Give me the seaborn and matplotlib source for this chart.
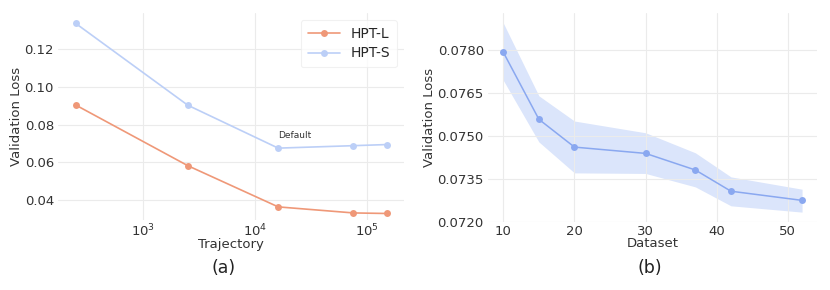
import numpy as np
import pandas as pd
import matplotlib
matplotlib.use("Agg")
import matplotlib.pyplot as plt
import seaborn as sns

# (a) 轨迹数量 vs 验证损失
trajectory = [250, 2500, 16000, 75000, 150000]
hpt_l_loss = [0.0903, 0.0582, 0.0364, 0.0332, 0.0329]
hpt_s_loss = [0.1335, 0.0902, 0.0675, 0.0688, 0.0694]

# (b) 数据集数量 vs 验证损失（带区间）
dataset = [10, 15, 20, 30, 37, 42, 52]
dataset_loss = [0.07793, 0.07559, 0.07462, 0.07440, 0.07382, 0.07308, 0.07276]
dataset_upper = [0.07895, 0.07641, 0.07553, 0.07512, 0.07442, 0.07358, 0.07315]
dataset_lower = [0.07695, 0.07480, 0.07372, 0.07370, 0.07323, 0.07257, 0.07235]

sns.set_theme(style="whitegrid")
plt.rcParams['font.family'] = ['DejaVu Sans']
plt.rcParams['grid.color'] = '#ebebeb'
plt.rcParams['grid.linewidth'] = 0.8

c_l = '#ef9878'
c_s = '#bccff7'
c_b = '#8aa8f0'
c_fill = '#dbe5fb'
txt = '#333333'

fig = plt.figure(figsize=(8.3, 2.9), dpi=100)
ax1 = fig.add_axes([0.070, 0.241, 0.417, 0.714])
ax2 = fig.add_axes([0.588, 0.234, 0.396, 0.721])

df_a = pd.DataFrame({
    'Trajectory': trajectory * 2,
    'Loss': hpt_l_loss + hpt_s_loss,
    'Model': ['HPT-L'] * len(trajectory) + ['HPT-S'] * len(trajectory),
})
sns.lineplot(data=df_a, x='Trajectory', y='Loss', hue='Model',
             palette={'HPT-L': c_l, 'HPT-S': c_s}, marker='o',
             markersize=5, markeredgewidth=0, linewidth=1.2, ax=ax1)
ax1.set_xscale('log')
ax1.set_xlim(174, 213000)
ax1.set_ylim(0.0294, 0.139)
ax1.set_yticks([0.04, 0.06, 0.08, 0.10, 0.12])
ax1.set_yticklabels(['0.04', '0.06', '0.08', '0.10', '0.12'])
ax1.minorticks_off()
ax1.set_xlabel('Trajectory', fontsize=9.5, color=txt, labelpad=-1)
ax1.set_ylabel('Validation Loss', fontsize=9.5, color=txt, labelpad=1)
ax1.annotate('Default', xy=(trajectory[2], hpt_s_loss[2]), xytext=(0, 7),
             textcoords='offset points', fontsize=6.5, color=txt, ha='left')
leg = ax1.legend(loc='upper right', fontsize=10, frameon=True,
                 handlelength=2.3, borderpad=0.5, labelspacing=0.4)
leg.get_frame().set_edgecolor('#eeeeee')
leg.get_frame().set_linewidth(0.8)

sns.lineplot(x=dataset, y=dataset_loss, color=c_b, marker='o', markersize=5,
             markeredgewidth=0, linewidth=1.1, ax=ax2)
ax2.fill_between(dataset, dataset_lower, dataset_upper, color=c_fill,
                 linewidth=0, zorder=0)
ax2.set_xlim(7.85, 54.06)
ax2.set_ylim(0.0720, 0.07930)
ax2.set_yticks([0.0720, 0.0735, 0.0750, 0.0765, 0.0780])
ax2.set_yticklabels(['0.0720', '0.0735', '0.0750', '0.0765', '0.0780'])
ax2.set_xticks([10, 20, 30, 40, 50])
ax2.set_xlabel('Dataset', fontsize=9.5, color=txt, labelpad=-1)
ax2.set_ylabel('Validation Loss', fontsize=9.5, color=txt, labelpad=1)

for ax in (ax1, ax2):
    for s in ax.spines.values():
        s.set_visible(False)
    ax.tick_params(axis='both', labelsize=9.5, colors=txt, length=0, pad=3)
    ax.tick_params(axis='x', pad=2)
    ax.set_axisbelow(True)

fig.text(0.269, 0.076, '(a)', fontsize=12.5, ha='center', va='center', color='#222222')
fig.text(0.783, 0.076, '(b)', fontsize=12.5, ha='center', va='center', color='#222222')

fig.savefig('out.png', dpi=100)
